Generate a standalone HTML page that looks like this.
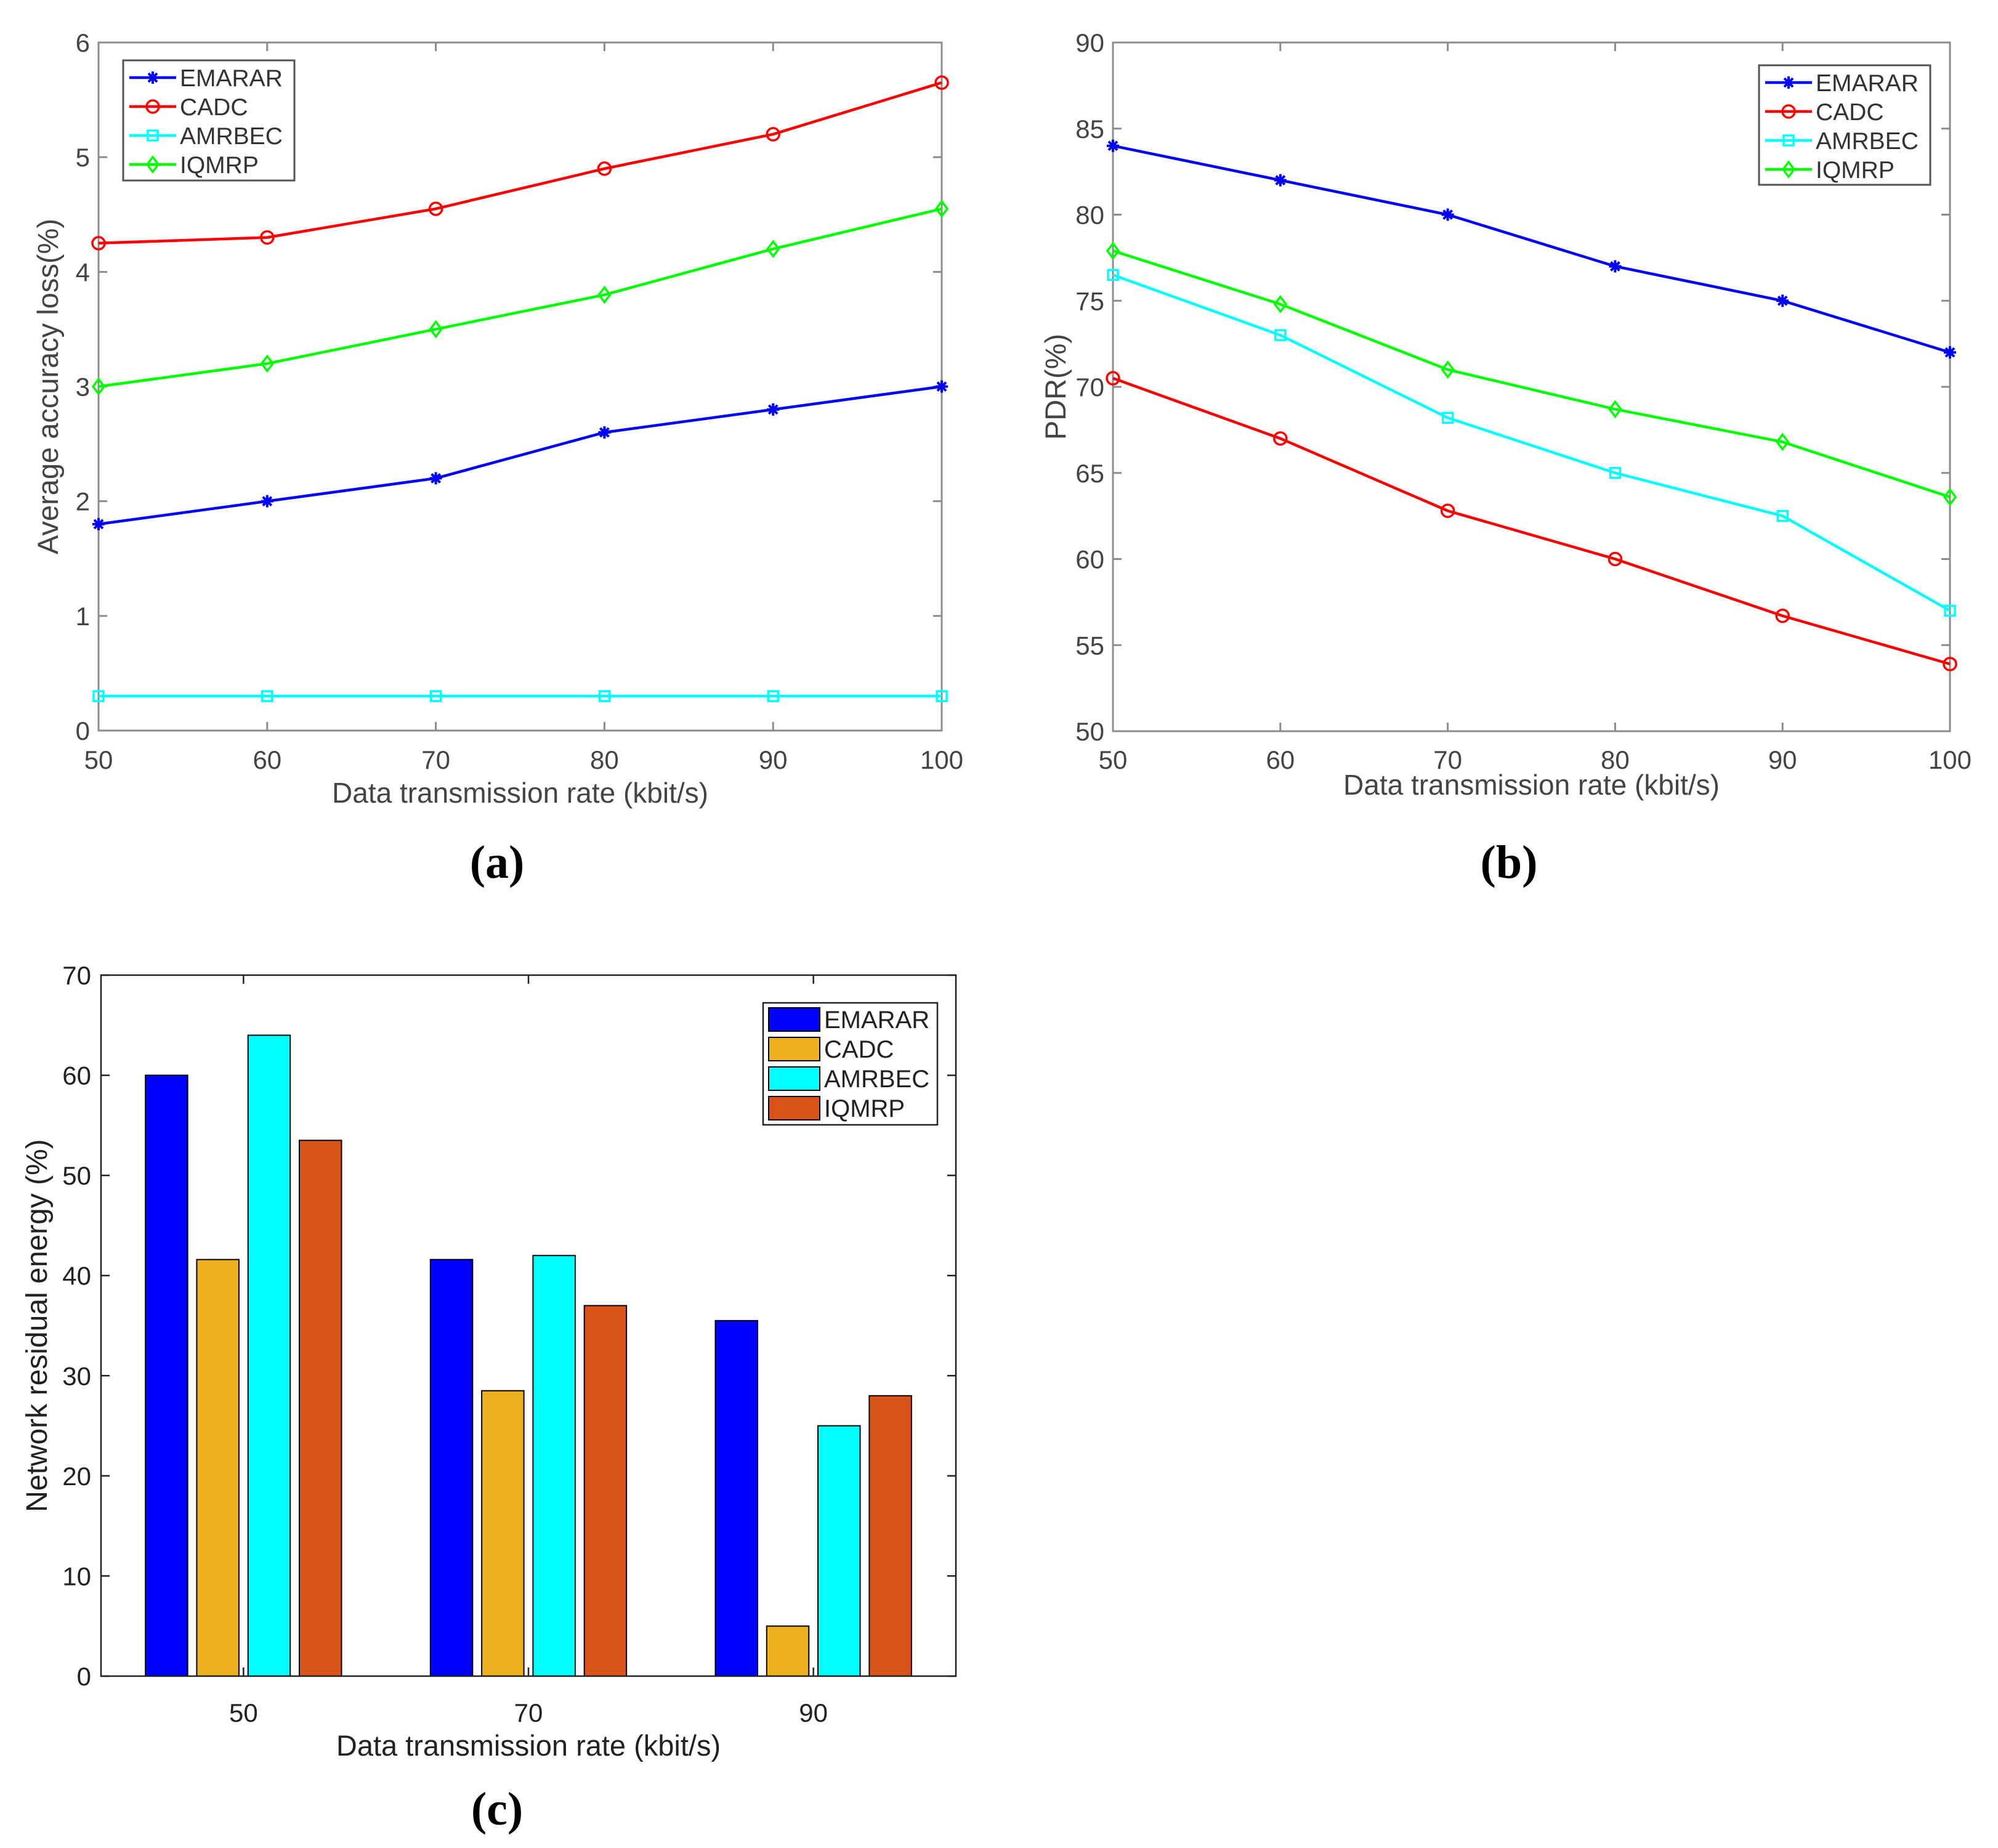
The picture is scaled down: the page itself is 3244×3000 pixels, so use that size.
<!DOCTYPE html>
<html><head><meta charset="utf-8"><style>
body{margin:0;background:#fff}
svg{display:block}
text{font-family:"Liberation Sans",sans-serif}
.cap{font-family:"Liberation Serif",serif;font-weight:bold;font-size:76px;fill:#000}
</style></head><body>
<svg id="s" width="3244" height="3000" viewBox="0 0 3244 3000" xmlns="http://www.w3.org/2000/svg"></svg>
<script>
const seriesNames=["EMARAR","CADC","AMRBEC","IQMRP"];
const lineColors=["#0000ff","#ff0000","#00ffff","#00ff00"];
const markers=["star","circle","square","diamond"];
const xCatsLine=[50,60,70,80,90,100];
const aTicksY=[0,1,2,3,4,5,6];
const aEMARAR=[1.8,2,2.2,2.6,2.8,3];
const aCADC=[4.25,4.3,4.55,4.9,5.2,5.65];
const aAMRBEC=[0.3,0.3,0.3,0.3,0.3,0.3];
const aIQMRP=[3,3.2,3.5,3.8,4.2,4.55];
const bTicksY=[50,55,60,65,70,75,80,85,90];
const bEMARAR=[84,82,80,77,75,72];
const bCADC=[70.5,67,62.8,60,56.7,53.9];
const bAMRBEC=[76.5,73,68.2,65,62.5,57];
const bIQMRP=[77.9,74.8,71,68.7,66.8,63.6];
const cCats=[50,70,90];
const cTicksY=[0,10,20,30,40,50,60,70];
const cEMARAR=[60,41.6,35.5];
const cCADC=[41.6,28.5,5];
const cAMRBEC=[64,42,25];
const cIQMRP=[53.5,37,28];
const barColors=["#0000ff","#edb120","#00ffff","#d95319"];

const S=document.getElementById('s');const NS="http://www.w3.org/2000/svg";
function el(t,a,p){const e=document.createElementNS(NS,t);for(const k in a)e.setAttribute(k,a[k]);(p||S).appendChild(e);return e;}
function txt(x,y,s,a,p){const e=el('text',Object.assign({x:x,y:y},a),p);e.textContent=s;return e;}
function marker(g,type,x,y,c){
  let m;
  if(type==="circle")m=el('circle',{cx:x,cy:y,r:10,fill:'none',stroke:c,'stroke-width':3.5},g);
  else if(type==="square")m=el('rect',{x:x-8,y:y-8,width:16,height:16,fill:'none',stroke:c,'stroke-width':3.5},g);
  else if(type==="diamond")m=el('polygon',{points:`${x},${y-12} ${x+9},${y} ${x},${y+12} ${x-9},${y}`,fill:'none',stroke:c,'stroke-width':3.5},g);
  else{m=el('path',{d:`M${x-10},${y}H${x+10}M${x},${y-10}V${y+10}M${x-7},${y-7}L${x+7},${y+7}M${x-7},${y+7}L${x+7},${y-7}`,stroke:c,'stroke-width':4},g);}
  
  
}
function linePanel(id,L,R,T,B,ticksY,data,ytitle,ytx,xlabY,xtitleY,leg,cap,capX){
  const g=el('g',{});
  
  
  const y0=ticksY[0],y1=ticksY[ticksY.length-1];
  const xs=v=>L+(v-xCatsLine[0])/(xCatsLine[xCatsLine.length-1]-xCatsLine[0])*(R-L);
  const ys=v=>B-(v-y0)/(y1-y0)*(B-T);
  const ax=el('rect',{x:L,y:T,width:R-L,height:B-T,fill:'none',stroke:'#8c8c8c','stroke-width':3},g);
  
  
  ticksY.forEach(t=>{const y=ys(t);
    el('path',{d:`M${L},${y}h14M${R},${y}h-14`,stroke:'#8c8c8c','stroke-width':3},g);
    const e=txt(L-14,y+15,String(t),{'font-size':42,fill:'#444','text-anchor':'end'},g);
    
    });
  xCatsLine.forEach(t=>{const x=xs(t);
    el('path',{d:`M${x},${B}v-14M${x},${T}v14`,stroke:'#8c8c8c','stroke-width':3},g);
    const e=txt(x,xlabY,String(t),{'font-size':42,fill:'#444','text-anchor':'middle'},g);
    
    });
  data.forEach((d,i)=>{
    const p=el('polyline',{points:d.map((v,j)=>xs(xCatsLine[j])+','+ys(v)).join(' '),fill:'none',stroke:lineColors[i],'stroke-width':4.5},g);
    
    
    d.forEach((v,j)=>marker(g,markers[i],xs(xCatsLine[j]),ys(v),lineColors[i]));
  });
  const xt=txt((L+R)/2,xtitleY,'Data transmission rate (kbit/s)',{'font-size':46,fill:'#444','text-anchor':'middle'},g);
  
  
  const yt=txt(0,0,ytitle,{'font-size':47,fill:'#444','text-anchor':'middle',transform:`translate(${ytx},${(T+B)/2}) rotate(-90)`},g);
  
  
  const lg=el('g',{},g);
  
  
  el('rect',{x:leg[0],y:leg[1],width:leg[2],height:leg[3],fill:'#fff',stroke:'#555','stroke-width':3},lg);
  seriesNames.forEach((n,i)=>{const y=leg[1]+28+i*47;
    const e=el('g',{},lg);
    
    
    el('path',{d:`M${leg[0]+10},${y}h76`,stroke:lineColors[i],'stroke-width':4.5},e);
    marker(e,markers[i],leg[0]+48,y,lineColors[i]);
    txt(leg[0]+92,y+14,n,{'font-size':39,fill:'#333'},e);});
  const c=txt(capX,1425,cap,{'class':'cap','text-anchor':'middle'},g);
  
  
}
linePanel('chart-a',160,1529,69,1186,aTicksY,[aEMARAR,aCADC,aAMRBEC,aIQMRP],'Average accuracy loss(%)',94,1248,1303,[200,98,278,195],'(a)',807);
linePanel('chart-b',1807,3166,69,1187,bTicksY,[bEMARAR,bCADC,bAMRBEC,bIQMRP],'PDR(%)',1730,1248,1290,[2856,106,278,194],'(b)',2450);

// bar chart
(function(){
  const L=164,R=1552,T=1583,B=2721;
  const g=el('g',{});
  
  
  const xmin=40,xmax=100,ymin=0,ymax=70;
  const xs=v=>L+(v-xmin)/(xmax-xmin)*(R-L);
  const ys=v=>B-(v-ymin)/(ymax-ymin)*(B-T);
  const groupW=xs(cCats[1])-xs(cCats[0]);
  const step=groupW*0.18, bw=groupW*0.148;
  const data=[cEMARAR,cCADC,cAMRBEC,cIQMRP];
  data.forEach((d,i)=>d.forEach((v,j)=>{
    const cx=xs(cCats[j])+(i-1.5)*step;
    const r=el('rect',{x:cx-bw/2,y:ys(v),width:bw,height:ys(0)-ys(v),fill:barColors[i],stroke:'#000','stroke-width':2},g);
    
    
  }));
  const ax=el('rect',{x:L,y:T,width:R-L,height:B-T,fill:'none',stroke:'#222','stroke-width':2.5},g);
  
  
  cTicksY.forEach(t=>{const y=ys(t);
    el('path',{d:`M${L},${y}h14M${R},${y}h-14`,stroke:'#222','stroke-width':2.5},g);
    const e=txt(L-16,y+15,String(t),{'font-size':42,fill:'#222','text-anchor':'end'},g);
    
    });
  cCats.forEach(t=>{const x=xs(t);
    el('path',{d:`M${x},${B}v-14M${x},${T}v14`,stroke:'#222','stroke-width':2.5},g);
    const e=txt(x,2795,String(t),{'font-size':42,fill:'#222','text-anchor':'middle'},g);
    
    });
  const xt=txt((L+R)/2,2850,'Data transmission rate (kbit/s)',{'font-size':47,fill:'#222','text-anchor':'middle'},g);
  
  
  const yt=txt(0,0,'Network residual energy (%)',{'font-size':48,fill:'#222','text-anchor':'middle',transform:`translate(76,${(T+B)/2}) rotate(-90)`},g);
  
  
  const lg=el('g',{},g);
  
  
  el('rect',{x:1239,y:1628,width:283,height:198,fill:'#fff',stroke:'#222','stroke-width':2.5},lg);
  seriesNames.forEach((n,i)=>{const y=1636+i*48;
    const e=el('g',{},lg);
    
    
    el('rect',{x:1248,y:y,width:83,height:38,fill:barColors[i],stroke:'#000','stroke-width':2},e);
    txt(1338,y+33,n,{'font-size':40,fill:'#222'},e);});
  const c=txt(807,2962,'(c)',{'class':'cap','text-anchor':'middle'},g);
  
  
})();
</script>
</body></html>
